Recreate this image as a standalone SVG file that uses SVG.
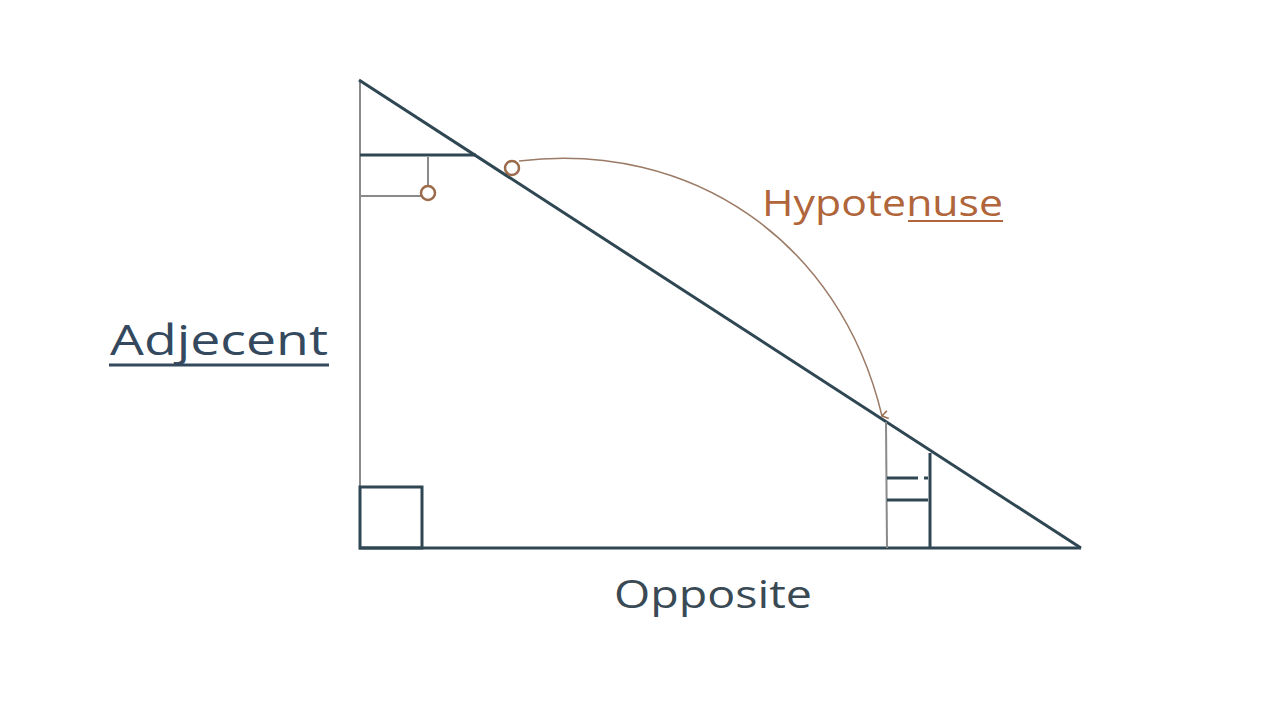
<svg xmlns="http://www.w3.org/2000/svg" width="1280" height="720" viewBox="0 0 1280 720">
<style>
.d{stroke:#2f4753;fill:none;stroke-width:3}
.g{stroke:#8a8a8a;fill:none;stroke-width:2}
.b{stroke:#9b6a4a;fill:none;stroke-width:2.5}
text{font-family:"Open Sans","Liberation Sans",sans-serif}
</style>
<defs><marker id="a" markerWidth="10" markerHeight="10" refX="5" refY="8" orient="auto-start-reverse" markerUnits="userSpaceOnUse" viewBox="0 0 10 10"><path d="M1,2 L5,8 L9,2" fill="none" stroke="#9b6a4a" stroke-width="1.5"/></marker></defs>
<rect width="1280" height="720" fill="#fff"/>
<g id="triangle">
<line class="g" x1="360" y1="80" x2="360" y2="549" stroke-width="2.5"/>
<line class="d" x1="359" y1="548" x2="1081" y2="548"/>
<line class="d" x1="359" y1="80" x2="1081" y2="548"/>
<rect class="d" x="360" y="487" width="62" height="61"/>
<line class="d" x1="360" y1="155" x2="476" y2="155"/>
<line class="g" x1="360" y1="196" x2="421" y2="196" stroke="#999"/>
<line class="g" x1="428" y1="157" x2="428" y2="186" stroke-width="1.5"/>
<circle class="b" cx="428" cy="193" r="7"/>
<circle class="b" cx="512" cy="168" r="7"/>
<line class="d" x1="930" y1="453" x2="930" y2="548"/>
<line class="g" x1="886" y1="422" x2="887" y2="548" stroke="#777"/>
<line class="d" x1="887" y1="478" x2="918" y2="478"/>
<line class="d" x1="924" y1="478" x2="928" y2="478" stroke-width="1.5"/>
<line class="d" x1="887" y1="500" x2="928" y2="500" stroke-width="2"/>
</g>
<g id="connectors">
<path d="M519,161 C690,140 840,240 882,416" stroke="#9b7a66" stroke-width="1.5" fill="none" marker-end="url(#a)"/>
</g>
<g id="labels">
<text x="762" y="216" font-size="36" fill="#b0653a" textLength="241" lengthAdjust="spacingAndGlyphs">Hypotenuse</text>
<line x1="908" y1="221" x2="1003" y2="221" stroke="#b0653a" stroke-width="2"/>
<text x="110" y="355" font-size="42" fill="#34495e" textLength="218" lengthAdjust="spacingAndGlyphs">Adjecent</text>
<line x1="109" y1="365" x2="329" y2="365" stroke="#34495e" stroke-width="3"/>
<text x="614" y="608" font-size="38" fill="#3a4a55" textLength="198" lengthAdjust="spacingAndGlyphs">Opposite</text>
</g>
</svg>
